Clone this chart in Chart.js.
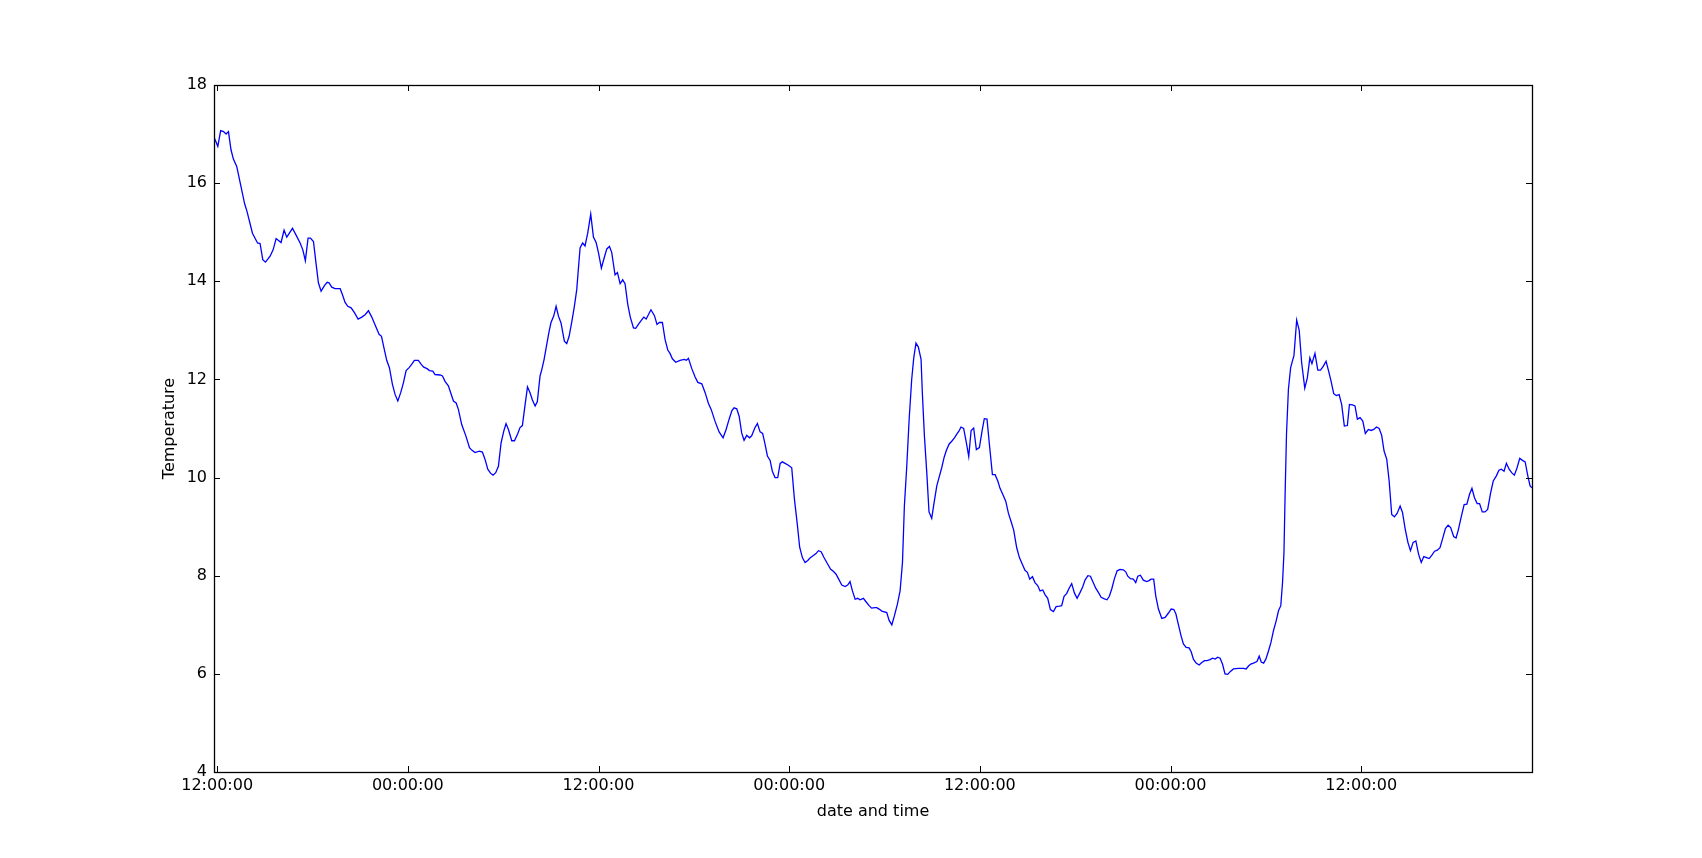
<!DOCTYPE html>
<html>
<head>
<meta charset="utf-8">
<script src="https://cdn.jsdelivr.net/npm/chart.js@4"></script>
<style>
  body { margin: 0; background: #fff; }
  canvas { display: block; }
</style>
</head>
<body>
<canvas id="tempChart" width="1702" height="858"></canvas>
<script>
// hours counted from 12:00:00 on the first day
const hours = [
  -0.19, 0.04, 0.22, 0.4, 0.56, 0.71, 0.87, 1.02, 1.23, 1.5, 1.72, 1.88, 2.22, 2.54, 2.7, 2.87, 3.04, 3.33, 3.52, 3.71,
  4.02, 4.21, 4.38, 4.74, 4.95, 5.22, 5.39, 5.55, 5.72, 5.87, 6.06, 6.22, 6.37, 6.54, 6.75, 6.92, 7.04, 7.21, 7.42, 7.74,
  7.88, 8.05, 8.22, 8.43, 8.64, 8.87, 9.1, 9.31, 9.52, 9.73, 9.98, 10.19, 10.34, 10.5, 10.67, 10.84, 11.03, 11.2, 11.37, 11.55,
  11.72, 11.89, 12.08, 12.25, 12.41, 12.66, 12.83, 13.0, 13.21, 13.36, 13.57, 13.71, 14.03, 14.18, 14.34, 14.55, 14.87, 15.04, 15.18, 15.39,
  15.65, 15.88, 16.02, 16.23, 16.5, 16.69, 16.86, 17.03, 17.2, 17.36, 17.53, 17.7, 17.87, 18.04, 18.18, 18.33, 18.54, 18.71, 18.92, 19.06,
  19.21, 19.34, 19.53, 19.69, 19.84, 20.01, 20.15, 20.32, 20.43, 20.57, 20.74, 20.89, 21.01, 21.18, 21.33, 21.48, 21.64, 21.85, 22.0, 22.15,
  22.32, 22.48, 22.63, 22.73, 22.84, 23.0, 23.15, 23.32, 23.51, 23.68, 23.85, 24.0, 24.18, 24.35, 24.52, 24.69, 24.83, 25.04, 25.19, 25.36,
  25.52, 25.67, 25.84, 26.0, 26.2, 26.34, 26.51, 26.68, 26.85, 27.0, 27.3, 27.52, 27.68, 27.83, 28.02, 28.19, 28.36, 28.5, 28.65, 28.86,
  29.13, 29.4, 29.53, 29.66, 29.87, 30.08, 30.25, 30.5, 30.71, 30.92, 31.09, 31.33, 31.59, 31.84, 32.03, 32.22, 32.39, 32.53, 32.7, 32.85,
  33.01, 33.16, 33.33, 33.5, 33.64, 33.85, 34.0, 34.17, 34.33, 34.48, 34.63, 34.8, 34.94, 35.11, 35.28, 35.43, 35.57, 35.74, 35.95, 36.16,
  36.33, 36.52, 36.66, 36.83, 37.0, 37.17, 37.31, 37.52, 37.69, 37.84, 38.01, 38.19, 38.4, 38.61, 38.78, 38.95, 39.1, 39.31, 39.52, 39.68,
  39.83, 39.98, 40.15, 40.31, 40.46, 40.67, 40.81, 41.03, 41.19, 41.4, 41.51, 41.66, 41.83, 42.14, 42.29, 42.46, 42.62, 42.81, 42.98, 43.13,
  43.25, 43.4, 43.55, 43.71, 43.84, 43.98, 44.13, 44.3, 44.38, 44.51, 44.66, 44.8, 44.97, 45.12, 45.29, 45.43, 45.6, 45.75, 45.89, 46.06,
  46.23, 46.4, 46.56, 46.69, 46.81, 46.98, 47.15, 47.3, 47.45, 47.61, 47.78, 47.97, 48.14, 48.28, 48.45, 48.6, 48.79, 48.96, 49.13, 49.27,
  49.44, 49.63, 49.8, 49.97, 50.13, 50.32, 50.49, 50.68, 50.84, 50.99, 51.14, 51.31, 51.47, 51.64, 51.79, 51.96, 52.11, 52.27, 52.44, 52.63,
  52.8, 53.0, 53.15, 53.3, 53.47, 53.61, 53.78, 53.95, 54.12, 54.31, 54.47, 54.62, 54.8, 54.96, 55.12, 55.3, 55.46, 55.63, 55.84, 56.0,
  56.15, 56.3, 56.47, 56.64, 56.82, 57.03, 57.18, 57.31, 57.48, 57.66, 57.81, 57.94, 58.1, 58.29, 58.5, 58.65, 58.77, 58.94, 59.07, 59.24,
  59.45, 59.66, 59.87, 60.04, 60.21, 60.34, 60.5, 60.66, 60.81, 60.98, 61.17, 61.3, 61.44, 61.61, 61.8, 61.97, 62.14, 62.3, 62.49, 62.64,
  62.81, 62.97, 63.12, 63.27, 63.43, 63.6, 63.77, 63.96, 64.27, 64.59, 64.76, 64.91, 65.05, 65.22, 65.44, 65.58, 65.71, 65.86, 66.0, 66.17,
  66.32, 66.48, 66.65, 66.8, 66.94, 67.05, 67.14, 67.21, 67.3, 67.42, 67.56, 67.77, 67.94, 68.1, 68.25, 68.45, 68.61, 68.77, 68.9, 69.09,
  69.27, 69.44, 69.62, 69.79, 69.95, 70.1, 70.27, 70.44, 70.61, 70.77, 70.94, 71.13, 71.26, 71.45, 71.61, 71.76, 71.93, 72.1, 72.26, 72.45,
  72.62, 72.79, 72.96, 73.13, 73.29, 73.44, 73.61, 73.76, 73.92, 74.09, 74.26, 74.45, 74.6, 74.77, 74.94, 75.1, 75.27, 75.44, 75.61, 75.78,
  75.94, 76.11, 76.28, 76.45, 76.62, 76.79, 76.96, 77.13, 77.3, 77.47, 77.63, 77.82, 77.97, 78.11, 78.31, 78.48, 78.65, 78.82, 78.97, 79.13,
  79.3, 79.45, 79.62, 79.79, 79.96, 80.14, 80.31, 80.5, 80.67, 80.82, 80.99, 81.14, 81.31, 81.47, 81.64, 81.81, 81.98, 82.15, 82.32, 82.49,
  82.63, 82.75
];

const temperature = [
  16.93, 16.75, 17.07, 17.05, 17.0, 17.05, 16.68, 16.49, 16.34, 15.93, 15.59, 15.42, 14.98, 14.78, 14.77, 14.44, 14.39, 14.51, 14.64, 14.87,
  14.79, 15.04, 14.9, 15.08, 14.95, 14.78, 14.64, 14.42, 14.88, 14.88, 14.81, 14.37, 13.97, 13.8, 13.91, 13.98, 13.97, 13.88, 13.85, 13.85,
  13.73, 13.57, 13.49, 13.46, 13.36, 13.23, 13.27, 13.32, 13.4, 13.27, 13.08, 12.92, 12.88, 12.64, 12.39, 12.24, 11.9, 11.69, 11.56, 11.73,
  11.93, 12.18, 12.24, 12.31, 12.39, 12.39, 12.31, 12.25, 12.22, 12.18, 12.17, 12.1, 12.09, 12.07, 11.96, 11.87, 11.56, 11.52, 11.39, 11.08,
  10.85, 10.61, 10.56, 10.51, 10.54, 10.52, 10.37, 10.17, 10.09, 10.05, 10.1, 10.23, 10.71, 10.95, 11.1, 10.98, 10.75, 10.75, 10.9, 11.02,
  11.06, 11.39, 11.85, 11.73, 11.58, 11.46, 11.55, 12.07, 12.2, 12.4, 12.71, 12.98, 13.16, 13.29, 13.49, 13.29, 13.15, 12.78, 12.73, 12.88,
  13.18, 13.49, 13.83, 14.24, 14.68, 14.78, 14.72, 14.98, 15.37, 14.9, 14.79, 14.58, 14.27, 14.47, 14.66, 14.71, 14.59, 14.13, 14.18, 13.95,
  14.03, 13.95, 13.53, 13.27, 13.05, 13.04, 13.12, 13.2, 13.27, 13.23, 13.42, 13.3, 13.12, 13.16, 13.16, 12.81, 12.6, 12.53, 12.42, 12.35,
  12.39, 12.41, 12.39, 12.43, 12.22, 12.05, 11.94, 11.91, 11.73, 11.51, 11.39, 11.15, 10.93, 10.81, 10.98, 11.19, 11.36, 11.42, 11.4, 11.25,
  10.91, 10.76, 10.86, 10.81, 10.85, 11.02, 11.1, 10.93, 10.9, 10.68, 10.44, 10.35, 10.13, 10.0, 10.0, 10.29, 10.32, 10.29, 10.25, 10.2,
  9.56, 9.02, 8.58, 8.37, 8.27, 8.31, 8.36, 8.41, 8.45, 8.51, 8.49, 8.37, 8.25, 8.13, 8.09, 8.03, 7.94, 7.81, 7.78, 7.81,
  7.88, 7.69, 7.52, 7.54, 7.51, 7.54, 7.48, 7.39, 7.34, 7.35, 7.35, 7.32, 7.28, 7.25, 7.09, 7.0, 7.18, 7.42, 7.69, 8.27,
  9.42, 10.23, 11.19, 12.0, 12.44, 12.74, 12.66, 12.41, 11.73, 10.85, 10.1, 9.3, 9.17, 9.49, 9.83, 10.0, 10.2, 10.41, 10.55, 10.68,
  10.74, 10.81, 10.89, 10.95, 11.03, 11.0, 10.71, 10.43, 10.96, 11.01, 10.57, 10.61, 10.95, 11.2, 11.19, 10.68, 10.06, 10.06, 9.93, 9.78,
  9.66, 9.52, 9.27, 9.1, 8.93, 8.57, 8.37, 8.23, 8.11, 8.07, 7.93, 7.98, 7.86, 7.8, 7.69, 7.71, 7.61, 7.54, 7.31, 7.27,
  7.37, 7.38, 7.39, 7.58, 7.64, 7.74, 7.84, 7.65, 7.54, 7.66, 7.77, 7.91, 8.0, 7.99, 7.87, 7.74, 7.66, 7.56, 7.53, 7.51,
  7.58, 7.73, 7.94, 8.1, 8.13, 8.12, 8.08, 7.99, 7.94, 7.93, 7.86, 7.99, 8.01, 7.91, 7.88, 7.9, 7.93, 7.93, 7.59, 7.32,
  7.13, 7.15, 7.24, 7.32, 7.31, 7.22, 7.0, 6.78, 6.61, 6.54, 6.53, 6.45, 6.3, 6.22, 6.18, 6.23, 6.27, 6.27, 6.29, 6.32,
  6.3, 6.34, 6.32, 6.2, 6.0, 5.99, 6.05, 6.1, 6.11, 6.11, 6.1, 6.16, 6.2, 6.22, 6.25, 6.36, 6.24, 6.22, 6.3, 6.47,
  6.64, 6.88, 7.08, 7.29, 7.39, 7.86, 8.47, 9.63, 10.9, 11.8, 12.24, 12.49, 13.21, 13.0, 12.35, 11.82, 12.03, 12.44, 12.32, 12.53,
  12.19, 12.19, 12.27, 12.37, 12.17, 11.97, 11.71, 11.67, 11.69, 11.49, 11.05, 11.06, 11.49, 11.48, 11.46, 11.19, 11.22, 11.15, 10.9, 10.98,
  10.96, 10.98, 11.03, 11.0, 10.86, 10.54, 10.37, 9.93, 9.25, 9.2, 9.27, 9.42, 9.29, 8.95, 8.68, 8.51, 8.68, 8.71, 8.44, 8.27,
  8.39, 8.37, 8.35, 8.42, 8.5, 8.52, 8.57, 8.76, 8.96, 9.03, 8.98, 8.8, 8.77, 8.93, 9.22, 9.45, 9.46, 9.66, 9.78, 9.59,
  9.47, 9.47, 9.3, 9.3, 9.35, 9.68, 9.93, 10.03, 10.15, 10.17, 10.13, 10.29, 10.17, 10.1, 10.05, 10.2, 10.39, 10.35, 10.32, 10.03,
  9.83, 9.79
];

const xTickHours = [0, 12, 24, 36, 48, 60, 72];
const yTicks = [4, 6, 8, 10, 12, 14, 16, 18];

const points = hours.map((h, i) => ({ x: h, y: temperature[i] }));

function clockLabel(h) {
  const hh = ((12 + h) % 24 + 24) % 24;
  return String(hh).padStart(2, '0') + ':00:00';
}

// matplotlib style frame with inward ticks on all four sides
const frameTicks = {
  id: 'frameTicks',
  afterDraw(chart) {
    const { ctx, chartArea: a, scales: { x, y } } = chart;
    const len = 6;
    ctx.save();
    ctx.strokeStyle = '#000';
    ctx.lineWidth = 1;
    ctx.beginPath();
    xTickHours.forEach(v => {
      const px = Math.round(x.getPixelForValue(v)) + 0.5;
      ctx.moveTo(px, a.bottom); ctx.lineTo(px, a.bottom - len);
      ctx.moveTo(px, a.top); ctx.lineTo(px, a.top + len);
    });
    yTicks.forEach(v => {
      const py = Math.round(y.getPixelForValue(v)) + 0.5;
      ctx.moveTo(a.left, py); ctx.lineTo(a.left + len, py);
      ctx.moveTo(a.right, py); ctx.lineTo(a.right - len, py);
    });
    ctx.stroke();
    ctx.lineWidth = 1.3;
    ctx.strokeRect(Math.round(a.left) + 0.5, Math.round(a.top) + 0.5,
      Math.round(a.right - a.left), Math.round(a.bottom - a.top));
    ctx.restore();
  }
};

const font = { family: 'DejaVu Sans', size: 16 };

new Chart(document.getElementById('tempChart').getContext('2d'), {
  type: 'line',
  data: {
    datasets: [{
      label: 'Temperature',
      data: points,
      borderColor: '#0000ff',
      borderWidth: 1.3,
      pointRadius: 0,
      tension: 0,
      fill: false
    }]
  },
  options: {
    responsive: false,
    animation: false,
    layout: { padding: { left: 160, top: 85, right: 170, bottom: 37 } },
    plugins: {
      legend: { display: false },
      tooltip: { enabled: false }
    },
    scales: {
      x: {
        type: 'linear',
        min: -0.2,
        max: 82.75,
        afterFit: s => { s.height = 49; },
        afterBuildTicks: s => { s.ticks = xTickHours.map(v => ({ value: v })); },
        grid: { display: false, drawTicks: false },
        border: { display: false },
        ticks: {
          color: '#000',
          font: font,
          padding: 4,
          maxRotation: 0,
          autoSkip: false,
          callback: v => clockLabel(v)
        },
        title: { display: true, text: 'date and time', color: '#000', font: font, padding: 0 }
      },
      y: {
        min: 4,
        max: 18,
        afterFit: s => { s.width = 54; },
        grid: { display: false, drawTicks: false },
        border: { display: false },
        ticks: { stepSize: 2, color: '#000', font: font, padding: 7 },
        title: { display: true, text: 'Temperature', color: '#000', font: font, padding: 0 }
      }
    }
  },
  plugins: [frameTicks]
});
</script>
</body>
</html>
